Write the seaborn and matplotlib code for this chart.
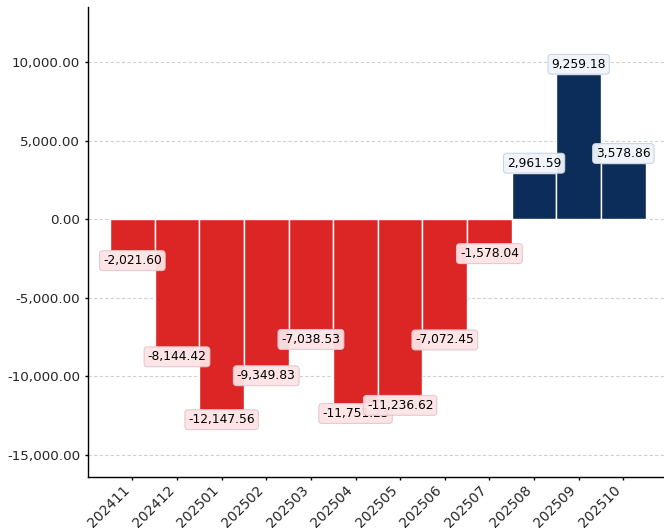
import matplotlib
matplotlib.use("Agg")
import matplotlib.pyplot as plt
import seaborn as sns
import pandas as pd
from matplotlib.ticker import FuncFormatter

months = ["202411", "202412", "202501", "202502", "202503", "202504",
          "202505", "202506", "202507", "202508", "202509", "202510"]
values = [-2021.60, -8144.42, -12147.56, -9349.83, -7038.53, -11751.23,
          -11236.62, -7072.45, -1578.04, 2961.59, 9259.18, 3578.86]

RED = "#dc2626"
NAVY = "#0c2d5a"

df = pd.DataFrame({"month": months, "value": values})
df["sign"] = ["neg" if v < 0 else "pos" for v in values]

sns.set_style("white")
plt.rcParams["font.family"] = ["DejaVu Sans"]

fig = plt.figure(figsize=(6.64, 5.31), dpi=100)
ax = fig.add_axes([87.7 / 664, (531 - 476.7) / 531, 1 - 87.7 / 664, (476.7 - 6.7) / 531])

sns.barplot(data=df, x="month", y="value", hue="sign",
            palette={"neg": RED, "pos": NAVY}, dodge=False, width=1.0, saturation=1,
            edgecolor="white", linewidth=1.0, legend=False, ax=ax, zorder=2)

for i, v in enumerate(values):
    if v < 0:
        ax.annotate(f"{v:,.2f}", (i, v), xytext=(0, -2.2), textcoords="offset points",
                    ha="center", va="top", fontsize=8.8, color="black", zorder=5,
                    bbox=dict(boxstyle="round,pad=0.28", fc="#fde4e6", ec="#e3c8cc", lw=0.8, alpha=0.95))
    else:
        ax.annotate(f"{v:,.2f}", (i, v), xytext=(0, 2.2), textcoords="offset points",
                    ha="center", va="bottom", fontsize=8.8, color="black", zorder=5,
                    bbox=dict(boxstyle="round,pad=0.28", fc="#f1f5fb", ec="#c9d3e2", lw=0.8, alpha=0.95))

ax.set_xlim(-1.0, 11.91)
ax.set_ylim(-16384, 13533)
ax.set_yticks([-15000, -10000, -5000, 0, 5000, 10000])
ax.yaxis.set_major_formatter(FuncFormatter(lambda y, p: f"{y:,.2f}".replace("\u2212", "-")))
ax.set_xticks(range(len(months)))
ax.set_xticklabels(months, rotation=45, ha="right", fontsize=10)
ax.tick_params(axis="y", labelsize=9.7, length=2.5, pad=3)
ax.tick_params(axis="x", length=2.5, pad=2)
ax.tick_params(axis="both", which="both", width=1, color="black", direction="out", left=True, bottom=True)
ax.set_xlabel("")
ax.set_ylabel("")
ax.yaxis.grid(True, linestyle=(0, (3, 2)), color="#d0d0d0", linewidth=0.8)
ax.xaxis.grid(False)
ax.set_axisbelow(True)
for s in ["top", "right"]:
    ax.spines[s].set_visible(False)
for s in ["left", "bottom"]:
    ax.spines[s].set_color("black")
    ax.spines[s].set_linewidth(1.0)

fig.savefig("out.png", dpi=100)
